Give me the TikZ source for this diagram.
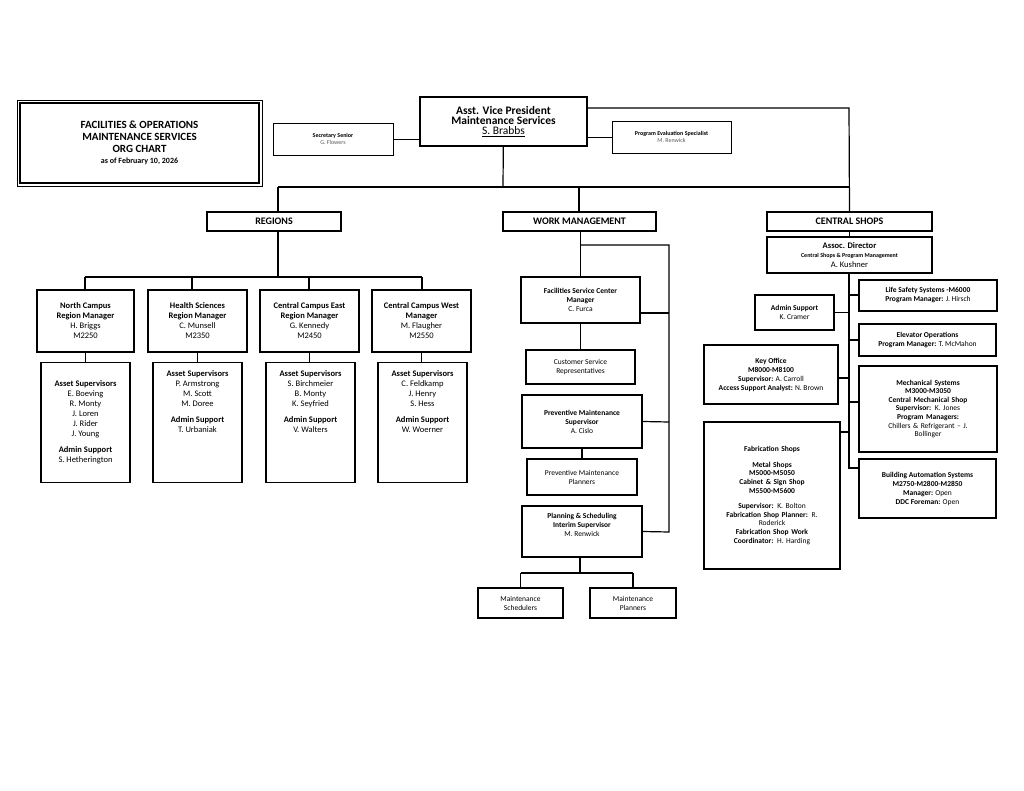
\documentclass[tikz,border=0pt]{standalone}
\usepackage{fontspec}
\setmainfont{Carlito}
\begin{document}
\begin{tikzpicture}[x=1pt, y=-1pt,
  box/.style={draw, line width=1.3pt, align=center, inner sep=1pt, font=\fontsize{8.5}{10}\selectfont},
  thin box/.style={draw, line width=0.6pt, align=center, inner sep=1pt, font=\fontsize{6}{7}\selectfont},
  head/.style={draw, line width=1.3pt, align=center, font=\fontsize{10}{12}\selectfont\bfseries},
  link/.style={line width=1.2pt}]

  \useasboundingbox (0,0) rectangle (1024,791);

  \newcommand\TOP{277}
  \newcommand\MGR{321}
  \newcommand\SUP{422}

  % title block
  \draw[line width=0.8pt] (17,100) rectangle (262,186);
  \node[draw, line width=1.6pt, minimum width=239pt, minimum height=80pt, align=center] (title) at (139.5,143)
    {\fontsize{11}{16}\selectfont\bfseries FACILITIES \& OPERATIONS\\ \fontsize{11}{16}\selectfont\bfseries MAINTENANCE SERVICES\\ \fontsize{11}{16}\selectfont\bfseries ORG CHART\\[-1pt] \fontsize{8}{10}\selectfont\bfseries as of February 10, 2026};

  % top level
  \node[box, minimum width=167pt, minimum height=49pt] (avp) at (503.5,121.5)
    {\fontsize{11.5}{14}\selectfont\bfseries Asst. Vice President\\ \fontsize{11.5}{14}\selectfont\bfseries Maintenance Services\\ \fontsize{11.5}{13}\selectfont \underline{S. Brabbs}};
  \node[thin box, minimum width=120pt, minimum height=32pt] (sec) at (333,139)
    {\textbf{Secretary Senior}\\ \color{gray!70!black}G. Flowers};
  \node[thin box, minimum width=119pt, minimum height=32pt] (pes) at (671.5,137)
    {\textbf{Program Evaluation Specialist}\\ \color{gray!70!black}M. Renwick};
  \draw[line width=0.6pt] (sec) -- (sec -| avp.west);
  \draw[line width=0.6pt] (pes) -- (pes -| avp.east);

  % departments
  \node[head, minimum width=134pt, minimum height=19pt] (reg) at (274,221.5) {REGIONS};
  \node[head, minimum width=153pt, minimum height=19pt] (wm) at (579.5,221.5) {WORK MANAGEMENT};
  \node[head, minimum width=165pt, minimum height=19pt] (cs) at (849.5,221.5) {CENTRAL SHOPS};
  \coordinate (bus) at (503,187);
  \draw[link] (avp) -- (bus);
  \draw[link] (278,187) -- (849,187);
  \draw[link] (278,187) -- (278,212);
  \draw[link] (579,187) -- (579,212);
  \draw[link] (avp.east |- 0,108) -- (849,108) -- (cs.north);

  % regions
  \node[box, minimum width=97pt, minimum height=62pt] (nc) at (85.5,\MGR)
    {\textbf{North Campus}\\ \textbf{Region Manager}\\ H. Briggs\\ M2250};
  \node[box, minimum width=99pt, minimum height=62pt] (hs) at (197.5,\MGR)
    {\textbf{Health Sciences}\\ \textbf{Region Manager}\\ C. Munsell\\ M2350};
  \node[box, minimum width=99pt, minimum height=62pt] (cce) at (309.5,\MGR)
    {\textbf{Central Campus East}\\ \textbf{Region Manager}\\ G. Kennedy\\ M2450};
  \node[box, minimum width=99pt, minimum height=62pt] (ccw) at (421.5,\MGR)
    {\textbf{Central Campus West}\\ \textbf{Manager}\\ M. Flaugher\\ M2550};
  \draw[link] (reg.south -| 278,0) -- (278,\TOP);
  \draw[link] (85,\TOP) -- (422,\TOP);
  \foreach \n/\x in {nc/85, hs/192, cce/309, ccw/422}
    \draw[link] (\x,\TOP) -- (\x,290);

  \node[box, minimum width=89pt, minimum height=120pt, anchor=north] (ncs) at (85.5,362)
    {\textbf{Asset Supervisors}\\ E. Boeving\\ R. Monty\\ J. Loren\\ J. Rider\\ J. Young\\[6pt] \textbf{Admin Support}\\ S. Hetherington};
  \node[box, minimum width=89pt, minimum height=120pt, anchor=north, text depth=43pt] (hss) at (197.5,362)
    {\textbf{Asset Supervisors}\\ P. Armstrong\\ M. Scott\\ M. Doree\\[6pt] \textbf{Admin Support}\\ T. Urbaniak};
  \node[box, minimum width=89pt, minimum height=120pt, anchor=north, text depth=43pt] (cces) at (310.5,362)
    {\textbf{Asset Supervisors}\\ S. Birchmeier\\ B. Monty\\ K. Seyfried\\[6pt] \textbf{Admin Support}\\ V. Walters};
  \node[box, minimum width=89pt, minimum height=120pt, anchor=north, text depth=43pt] (ccws) at (422.5,362)
    {\textbf{Asset Supervisors}\\ C. Feldkamp\\ J. Henry\\ S. Hess\\[6pt] \textbf{Admin Support}\\ W. Woerner};
  \foreach \a/\b in {nc/ncs, hs/hss, cce/cces, ccw/ccws}
    \draw[link] (\a.south) -- (\a.south |- \b.north);

  % work management
  \node[box, minimum width=119pt, minimum height=46pt, font=\fontsize{7.5}{9}\selectfont] (fsc) at (580.5,300)
    {\textbf{Facilities Service Center}\\ \textbf{Manager}\\ C. Furca};
  \node[box, minimum width=109pt, minimum height=34pt, font=\fontsize{7.5}{9}\selectfont] (csr) at (580.5,367)
    {Customer Service\\ Representatives};
  \node[box, minimum width=120pt, minimum height=53pt, font=\fontsize{7.5}{9}\selectfont] (pms) at (582,421.5)
    {\textbf{Preventive Maintenance}\\ \textbf{Supervisor}\\ A. Cislo};
  \node[box, minimum width=110pt, minimum height=36pt, font=\fontsize{7.5}{9}\selectfont] (pmp) at (582,477)
    {Preventive Maintenance\\ Planners};
  \node[box, minimum width=120pt, minimum height=51pt, font=\fontsize{7.5}{9}\selectfont, text depth=14pt] (pss) at (582,531.5)
    {\textbf{Planning \& Scheduling}\\ \textbf{Interim Supervisor}\\ M. Renwick};
  \node[box, minimum width=85pt, minimum height=30pt, font=\fontsize{7.5}{9}\selectfont] (msch) at (520.5,603)
    {Maintenance\\ Schedulers};
  \node[box, minimum width=86pt, minimum height=30pt, font=\fontsize{7.5}{9}\selectfont] (mpl) at (633,603)
    {Maintenance\\ Planners};
  \draw[link] (wm.south -| fsc.north) -- (fsc.north);
  \draw[link] (fsc) -- (csr);
  \draw[link] (pms) -- (pmp);
  \draw[link] (580,245) -- (669,245) -- (669,532) -- (pss.east);
  \draw[link] (fsc.east |- 0,313) -- (669,313);
  \draw[link] (pms.east) -- (669,422);
  \coordinate (fork) at (580,573);
  \draw[link] (pss.south -| fork) -- (fork);
  \draw[link] (msch.north |- fork) -- (mpl.north |- fork);
  \draw[link] (msch.north |- fork) -- (msch.north);
  \draw[link] (mpl.north |- fork) -- (mpl.north);

  % central shops
  \node[box, minimum width=165pt, minimum height=36pt, font=\fontsize{8.5}{9.5}\selectfont] (ad) at (849.5,255)
    {\textbf{Assoc. Director}\\ {\fontsize{6}{8}\selectfont\bfseries Central Shops \& Program Management}\\ A. Kushner};
  \draw[link] (cs) -- (ad);
  \node[box, minimum width=138pt, minimum height=31pt, font=\fontsize{7.5}{9}\selectfont] (lss) at (928,295.5)
    {\textbf{Life Safety Systems -M6000}\\ \textbf{Program Manager:} J. Hirsch};
  \node[box, minimum width=79pt, minimum height=35pt, font=\fontsize{7.5}{9}\selectfont] (as) at (794.5,312.5)
    {\textbf{Admin Support}\\ K. Cramer};
  \node[box, minimum width=137pt, minimum height=32pt, font=\fontsize{7.5}{9}\selectfont] (elv) at (927.5,340)
    {\textbf{Elevator Operations}\\ \textbf{Program Manager:} T. McMahon};
  \node[box, minimum width=134pt, minimum height=59pt, font=\fontsize{7.5}{9}\selectfont] (ko) at (771,374.5)
    {\textbf{Key Office}\\ \textbf{M8000-M8100}\\ \textbf{Supervisor:} A. Carroll\\ \textbf{Access Support Analyst:} N. Brown};
  \node[box, minimum width=138pt, minimum height=86pt, font=\fontsize{7.5}{8.6}\selectfont, text width=132pt] (mech) at (928,409)
    {\textbf{Mechanical Systems}\\ \textbf{M3000-M3050}\\ \textbf{Central Mechanical Shop}\\ \textbf{Supervisor:} K. Jones\\ \textbf{Program Managers:}\\ Chillers \& Refrigerant -- J.\\ Bollinger};
  \node[box, minimum width=136pt, minimum height=147pt, font=\fontsize{7.5}{8.6}\selectfont, text width=130pt] (fab) at (772,495.5)
    {\textbf{Fabrication Shops}\\[7pt] \textbf{Metal Shops}\\ \textbf{M5000-M5050}\\ \textbf{Cabinet \& Sign Shop}\\ \textbf{M5500-M5600}\\[7pt] \textbf{Supervisor:} K. Bolton\\ \textbf{Fabrication Shop Planner:} R.\\ Roderick\\ \textbf{Fabrication Shop Work}\\ \textbf{Coordinator:} H. Harding};
  \node[box, minimum width=137pt, minimum height=59pt, font=\fontsize{7.5}{9}\selectfont] (bas) at (927.5,488.5)
    {\textbf{Building Automation Systems}\\ \textbf{M2750-M2800-M2850}\\ \textbf{Manager:} Open\\ \textbf{DDC Foreman:} Open};
  \coordinate (spine) at (849,468);
  \draw[link] (ad.south -| spine) -- (spine) -- (bas.west |- spine);
  \draw[link] (849,295) -- (lss.west |- 0,295);
  \draw[link] (as.east) -- (849,312.5);
  \draw[link] (849,340) -- (elv.west);
  \draw[link] (ko.east |- 0,378) -- (849,378);
  \draw[link] (849,402) -- (mech.west |- 0,402);
  \draw[link] (fab.east |- 0,432) -- (849,432);

\end{tikzpicture}
\end{document}
